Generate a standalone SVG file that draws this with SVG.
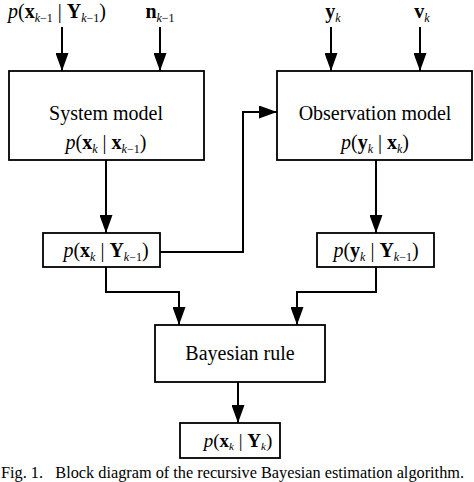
<svg xmlns="http://www.w3.org/2000/svg" width="474" height="482" viewBox="0 0 474 482">
<defs>
<marker id="ah" viewBox="0 0 18 13" refX="18" refY="6.5" markerWidth="18" markerHeight="13" markerUnits="userSpaceOnUse" orient="auto">
<path d="M0,0 L18,6.5 L0,13 Z" fill="#000"/>
</marker>
<style>
.box{fill:#fff;stroke:#000;stroke-width:1.8}
.ln{fill:none;stroke:#000;stroke-width:2}
text{font-family:"Liberation Serif","Times New Roman",serif;fill:#000}
.t{font-size:20px}
.i{font-style:italic}
.b{font-weight:bold}
.s{font-size:12px}
.cap{font-size:16.3px}
</style>
</defs>
<rect width="474" height="482" fill="#fff"/>
<g id="connectors">
<line class="ln" x1="62" y1="27" x2="62" y2="71" marker-end="url(#ah)"/>
<line class="ln" x1="160" y1="27" x2="160" y2="71" marker-end="url(#ah)"/>
<line class="ln" x1="331" y1="27" x2="331" y2="71" marker-end="url(#ah)"/>
<line class="ln" x1="420" y1="27" x2="420" y2="71" marker-end="url(#ah)"/>
<line class="ln" x1="106" y1="160" x2="106" y2="233" marker-end="url(#ah)"/>
<line class="ln" x1="376" y1="160" x2="376" y2="233" marker-end="url(#ah)"/>
<polyline class="ln" points="160,252 243,252 243,112 277,112" marker-end="url(#ah)"/>
<polyline class="ln" points="106,267 106,292 179,292 179,325" marker-end="url(#ah)"/>
<polyline class="ln" points="376,267 376,292 297,292 297,325" marker-end="url(#ah)"/>
<line class="ln" x1="238" y1="382" x2="238" y2="423" marker-end="url(#ah)"/>
</g>
<g id="in-prior">
<text class="t" x="57" y="18" text-anchor="middle"><tspan class="i">p</tspan>(<tspan class="b">x</tspan><tspan class="s i" dy="4">k</tspan><tspan class="s">−1</tspan><tspan dy="-4"> | </tspan><tspan class="b">Y</tspan><tspan class="s i" dy="4">k</tspan><tspan class="s">−1</tspan><tspan dy="-4">)</tspan></text>
</g>
<g id="in-noise">
<text class="t" x="160" y="18" text-anchor="middle"><tspan class="b">n</tspan><tspan class="s i" dy="4">k</tspan><tspan class="s">−1</tspan></text>
</g>
<g id="in-y">
<text class="t" x="333" y="18" text-anchor="middle"><tspan class="b">y</tspan><tspan class="s i" dy="4">k</tspan></text>
</g>
<g id="in-v">
<text class="t" x="422" y="18" text-anchor="middle"><tspan class="b">v</tspan><tspan class="s i" dy="4">k</tspan></text>
</g>
<g id="system-model">
<rect class="box" x="9" y="71" width="195" height="89"/>
<text class="t" x="106" y="120" text-anchor="middle">System model</text>
<text class="t" x="106" y="149" text-anchor="middle"><tspan class="i">p</tspan>(<tspan class="b">x</tspan><tspan class="s i" dy="4">k</tspan><tspan dy="-4"> | </tspan><tspan class="b">x</tspan><tspan class="s i" dy="4">k</tspan><tspan class="s">−1</tspan><tspan dy="-4">)</tspan></text>
</g>
<g id="observation-model">
<rect class="box" x="277" y="71" width="195" height="89"/>
<text class="t" x="375" y="120" text-anchor="middle">Observation model</text>
<text class="t" x="375" y="149" text-anchor="middle"><tspan class="i">p</tspan>(<tspan class="b">y</tspan><tspan class="s i" dy="4">k</tspan><tspan dy="-4"> | </tspan><tspan class="b">x</tspan><tspan class="s i" dy="4">k</tspan><tspan dy="-4">)</tspan></text>
</g>
<g id="predicted-state">
<rect class="box" x="43" y="233" width="117" height="34"/>
<text class="t" x="106" y="257" text-anchor="middle"><tspan class="i">p</tspan>(<tspan class="b">x</tspan><tspan class="s i" dy="4">k</tspan><tspan dy="-4"> | </tspan><tspan class="b">Y</tspan><tspan class="s i" dy="4">k</tspan><tspan class="s">−1</tspan><tspan dy="-4">)</tspan></text>
</g>
<g id="predicted-measurement">
<rect class="box" x="317" y="233" width="117" height="34"/>
<text class="t" x="376" y="257" text-anchor="middle"><tspan class="i">p</tspan>(<tspan class="b">y</tspan><tspan class="s i" dy="4">k</tspan><tspan dy="-4"> | </tspan><tspan class="b">Y</tspan><tspan class="s i" dy="4">k</tspan><tspan class="s">−1</tspan><tspan dy="-4">)</tspan></text>
</g>
<g id="bayesian-rule">
<rect class="box" x="155" y="325" width="170" height="57"/>
<text class="t" x="240" y="360" text-anchor="middle">Bayesian rule</text>
</g>
<g id="posterior">
<rect class="box" x="180" y="423" width="100" height="35"/>
<text class="t" x="238" y="447" text-anchor="middle" style="font-size:19px"><tspan class="i">p</tspan>(<tspan class="b">x</tspan><tspan class="s i" dy="3" style="font-size:11px">k</tspan><tspan dy="-3"> | </tspan><tspan class="b">Y</tspan><tspan class="s i" dy="3" style="font-size:11px">k</tspan><tspan dy="-3">)</tspan></text>
</g>
<text class="cap" x="1" y="478" xml:space="preserve">Fig. 1.   Block diagram of the recursive Bayesian estimation algorithm.</text>
</svg>
